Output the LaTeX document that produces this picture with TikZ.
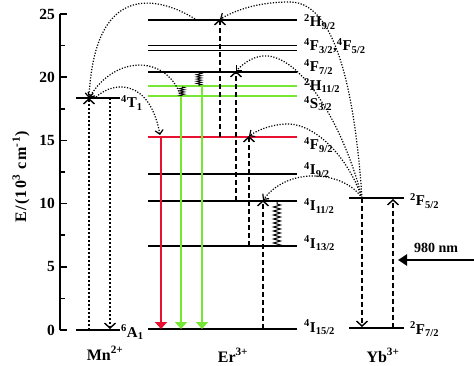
\documentclass[tikz,border=0pt]{standalone}
\usepackage{fontspec}
\setmainfont{Liberation Serif}
\usetikzlibrary{arrows.meta,decorations.pathmorphing}
\definecolor{erred}{RGB}{232,18,48}
\definecolor{ergreen}{RGB}{118,232,52}
\newcommand\lvl[3]{\textsuperscript{#1}#2\textsubscript{#3}}
\begin{document}
\begin{tikzpicture}[x=1pt,y=-1pt,
  lev/.style={line width=1.8pt},
  axisline/.style={line width=1.8pt},
  lab/.style={font=\fontsize{15}{18}\selectfont\bfseries, inner sep=0pt, anchor=base west},
  ion/.style={font=\fontsize{16}{18}\selectfont\bfseries, inner sep=0pt, anchor=base},
  ticklab/.style={font=\fontsize{15.5}{18}\selectfont\bfseries, inner sep=0pt, anchor=east},
  emit/.style={line width=2pt, -{Triangle[length=7pt,width=12pt]}},
  dashup/.style={line width=2pt, dash pattern=on 5pt off 3pt, -{Straight Barb[length=5pt,width=11pt,line width=1.4pt]}},
  mndot/.style={line width=2pt, dash pattern=on 2pt off 2pt},
  mnarrow/.style={mndot, -{Straight Barb[length=5pt,width=11pt,line width=1.4pt]}},
  transfer/.style={line width=1.2pt, dash pattern=on 1.2pt off 1.6pt, -{Straight Barb[length=4pt,width=8pt,line width=1.2pt]}},
  nonrad/.style={line width=0.8pt, decorate, decoration={zigzag, segment length=2.2pt, amplitude=2.6pt}},
  nonradlong/.style={line width=1pt, decorate, decoration={zigzag, segment length=4pt, amplitude=3.5pt, pre length=3pt}}
]
\useasboundingbox (0,0) rectangle (474,366);

% axis
\draw[axisline] (60,14) -- (60,330);
\foreach \k in {0,...,5} \draw[line width=1.5pt] (60,{330-63.2*\k}) -- (67,{330-63.2*\k});
\foreach \k in {0,...,4} \draw[line width=1.5pt] (60,{330-63.2*(\k+0.5)}) -- (64.5,{330-63.2*(\k+0.5)});
\node[ticklab] (t0) at (55,330) {0};
\node[ticklab] (t5) at (55,266.8) {5};
\node[ticklab] (t10) at (55,203.6) {10};
\node[ticklab] (t15) at (55,140.4) {15};
\node[ticklab] (t20) at (55,77.2) {20};
\node[ticklab] (t25) at (55,14) {25};
\node[font=\fontsize{16}{18}\selectfont\bfseries\addfontfeature{LetterSpace=9}, rotate=90, inner sep=0pt] (ylab) at (21,177) {E/(10\textsuperscript{3} cm\textsuperscript{-1})};

% Mn levels
\draw[lev] (76,98) -- (120,98);
\draw[lev] (76,330) -- (120,330);
\node[lab] (T1) at (121,108) {\lvl{4}{T}{1}};
\node[lab] (A1) at (121,337) {\lvl{6}{A}{1}};
\coordinate (mnX) at (89,98);
\coordinate (mnG) at (89,330);
\coordinate (mnE) at (110,98);
\coordinate (mnB) at (110,329);
\draw[mnarrow] (mnG) -- (mnX);
\draw[mnarrow] (mnE) -- (mnB);

% Er levels
\draw[lev] (148,20) -- (297,20);
\draw[lev] (148,45.5) -- (297,45.5);
\draw[lev] (148,50.5) -- (297,50.5);
\draw[lev] (148,72) -- (297,72);
\draw[lev, ergreen] (148,86) -- (297,86);
\draw[lev, ergreen] (148,96) -- (297,96);
\draw[lev, erred] (148,137) -- (297,137);
\draw[lev] (148,174) -- (297,174);
\draw[lev] (148,201) -- (297,201);
\draw[lev] (148,246) -- (297,246);
\draw[lev] (148,329) -- (297,329);

\node[lab] (H92) at (304,27) {\lvl{2}{H}{9/2}};
\node[lab] (F32) at (304,51) {\lvl{4}{F}{3/2},\lvl{4}{F}{5/2}};
\node[lab] (F72) at (304,72) {\lvl{4}{F}{7/2}};
\node[lab] (H112) at (304,90.5) {\lvl{2}{H}{11/2}};
\node[lab] (S32) at (304,108.5) {\lvl{4}{S}{3/2}};
\node[lab] (F92) at (304,150) {\lvl{4}{F}{9/2}};
\node[lab] (I92) at (304,175) {\lvl{4}{I}{9/2}};
\node[lab] (I112) at (304,211) {\lvl{4}{I}{11/2}};
\node[lab] (I132) at (304,248) {\lvl{4}{I}{13/2}};
\node[lab] (I152) at (304,332) {\lvl{4}{I}{15/2}};

% Er emissions
\draw[emit, erred] (161,137) -- (161,329);
\draw[emit, ergreen] (181,96) -- (181,329);
\draw[emit, ergreen] (202,86) -- (202,329);
% non-radiative
\draw[nonrad] (199,73) -- (199,86);
\draw[nonrad] (182,87) -- (182,96);
\draw[nonradlong] (277,201) -- (277,246);
% Er excitations
\coordinate (xH) at (220,19);
\coordinate (xF7) at (236,71);
\coordinate (xF9) at (249,136);
\coordinate (xI11) at (263,200);
\draw[dashup] (220,137) -- (xH);
\draw[dashup] (236,201) -- (xF7);
\draw[dashup] (249,246) -- (xF9);
\draw[dashup] (263,329) -- (xI11);

% Yb
\draw[lev] (349,198) -- (404,198);
\draw[lev] (349,328) -- (404,328);
\node[lab] (F52) at (410,206) {\lvl{2}{F}{5/2}};
\node[lab] (F72b) at (410,334) {\lvl{2}{F}{7/2}};
\coordinate (ybE) at (362,198);
\draw[dashup] (ybE) -- (362,327);
\draw[dashup] (393,328) -- (393,199);
\coordinate (laser) at (474,260);
\draw[line width=2.5pt, -{Triangle[length=9pt,width=11pt]}] (laser) -- (398,260);
\node[font=\fontsize{14}{16}\selectfont\bfseries, inner sep=0pt, anchor=base] (nm) at (436,253) {980 nm};

% ion labels
\node[ion] (Mn) at (105,360) {Mn\textsuperscript{2+}};
\node[ion] (Er) at (233,362) {Er\textsuperscript{3+}};
\node[ion] (Yb) at (383,362) {Yb\textsuperscript{3+}};

% energy transfer curves
\coordinate (erH) at (195,19);
\coordinate (erS) at (180,94);
\coordinate (mnS) at (96,97);
\coordinate (erR) at (160,135);
\draw[transfer] (erH) .. controls (165,0) and (95,-25) .. (mnX);
\draw[transfer] (erS) .. controls (165,55) and (115,55) .. (mnX);
\draw[transfer] (mnS) .. controls (115,80) and (150,80) .. (erR);

\draw[transfer] (ybE) .. controls (356,110) and (340,2) .. (290,2) .. controls (262,2) and (240,8) .. (xH);
\draw[transfer] (ybE) .. controls (345,130) and (305,60) .. (268,56) .. controls (255,55) and (245,62) .. (xF7);
\draw[transfer] (ybE) .. controls (345,150) and (310,122) .. (285,124) .. controls (270,125) and (258,130) .. (xF9);
\draw[transfer] (ybE) .. controls (345,172) and (290,165) .. (xI11);
\end{tikzpicture}
\end{document}
